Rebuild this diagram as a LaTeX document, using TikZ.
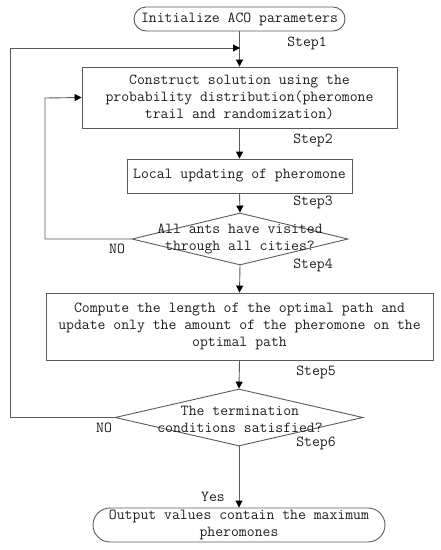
\documentclass[tikz,border=0pt]{standalone}
\usepackage{fontspec}
\usetikzlibrary{arrows.meta,shapes.geometric}
\definecolor{linegray}{HTML}{5A5A5A}
\definecolor{txt}{HTML}{1E1E1E}
\tikzset{
  base/.style={draw=linegray, line width=0.9pt, text=txt, inner sep=0pt, align=center,
    font=\fontsize{15.3}{17}\selectfont\ttfamily},
  term/.style={base, rectangle},
  procbox/.style={base, rectangle},
  decis/.style={draw=linegray, line width=0.9pt, diamond, inner sep=0pt},
  lbl/.style={text=txt, inner sep=0pt, font=\fontsize{15.3}{17}\selectfont\ttfamily},
  conn/.style={draw=linegray, line width=0.9pt},
  arr/.style={conn, -{Triangle[length=7pt,width=7pt,color=black]}},
}
\begin{document}
\begin{tikzpicture}[x=1pt,y=-1pt]
\useasboundingbox (0,0) rectangle (441,550);
% nodes
\node[term, rounded corners=12pt, minimum width=211pt, minimum height=24pt] (start) at (239.5,19) {Initialize ACO parameters};
\node[procbox, minimum width=315pt, minimum height=61pt] (construct) at (239.5,97.5) {Construct solution using the\\probability distribution(pheromone\\trail and randomization)};
\node[procbox, minimum width=225pt, minimum height=34pt] (local) at (239.5,176) {Local updating of pheromone};
\node[decis, minimum width=216pt, minimum height=52pt] (d1) at (240,239) {};
\node[lbl, align=center] (d1t) at (240,239) {All ants have visited\\through all cities?};
\node[procbox, minimum width=387pt, minimum height=67pt] (compute) at (239.5,326.5) {Compute the length of the optimal path and\\update only the amount of the pheromone on the\\optimal path};
\node[decis, minimum width=248pt, minimum height=57pt] (d2) at (239,417.5) {};
\node[lbl, align=center] (d2t) at (240,419) {The termination\\conditions satisfied?};
\node[term, rounded corners=17pt, minimum width=292pt, minimum height=34pt] (stop) at (239,525) {Output values contain the maximum\\pheromones};
% step labels
\node[lbl] (s1) at (307,43) {Step1};
\node[lbl] (s2) at (313,140) {Step2};
\node[lbl] (s3) at (313,202) {Step3};
\node[lbl] (s4) at (313,265) {Step4};
\node[lbl] (s5) at (316,372) {Step5};
\node[lbl] (s6) at (316,443) {Step6};
\node[lbl] (no1) at (117,249) {NO};
\node[lbl] (no2) at (104,428) {NO};
\node[lbl] (yes) at (213,497) {Yes};
% helper coordinates
\coordinate (j1) at (240,48);
\coordinate (c1) at (10,48);
\coordinate (c2) at (45,98);
% connectors
\draw[arr] (start.south) -- (construct.north);
\draw[arr] (d2.west) -| (c1) -- (j1);
\draw[arr] (construct.south) -- (local.north);
\draw[arr] (local.south) -- (d1.north);
\draw[arr] (d1.west) -| (c2) -- (construct.west);
\draw[arr] (d1.south) -- (compute.north);
\draw[arr] (compute.south) -- (d2.north);
\draw[arr] (d2.south) -- (stop.north);
\end{tikzpicture}
\end{document}
